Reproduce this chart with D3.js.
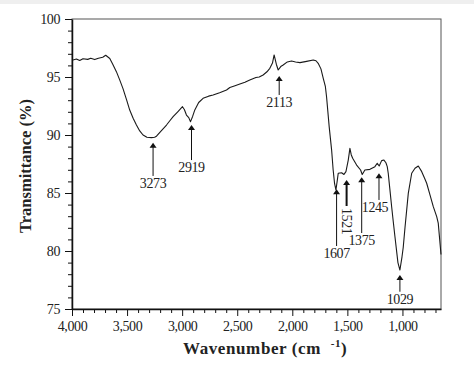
<!DOCTYPE html>
<html>
<head>
<meta charset="utf-8">
<script src="https://cdn.jsdelivr.net/npm/d3@7"></script>
<style>
  html, body { margin: 0; padding: 0; background: #fff; }
  svg { display: block; }
  svg text { font-family: "Liberation Serif", "Times New Roman", Times, serif; }
</style>
</head>
<body>
<div id="chart"></div>
<script>
// ---- Data ----
const wavenumber = [3991, 3960, 3930, 3900, 3857, 3830, 3794, 3760, 3721, 3694, 3657, 3630, 3597, 3567, 3537, 3505, 3476, 3445, 3415, 3385, 3355, 3320, 3279, 3250, 3233, 3190, 3142, 3110, 3082, 3040, 2997, 2980, 2961, 2940, 2924, 2905, 2885, 2850, 2810, 2760, 2719, 2660, 2597, 2567, 2520, 2476, 2430, 2386, 2330, 2300, 2265, 2230, 2204, 2180, 2165, 2145, 2128, 2105, 2083, 2045, 2007, 1970, 1931, 1870, 1810, 1785, 1765, 1740, 1719, 1700, 1689, 1665, 1643, 1629, 1616, 1604, 1590, 1583, 1552, 1531, 1513, 1492, 1477, 1465, 1452, 1416, 1380, 1365, 1341, 1295, 1250, 1229, 1211, 1189, 1168, 1150, 1138, 1129, 1115, 1098, 1083, 1068, 1041, 1023, 1004, 993, 977, 947, 916, 886, 856, 825, 800, 780, 750, 720, 689, 675, 650];
const transmittance = [96.47, 96.55, 96.42, 96.58, 96.52, 96.62, 96.5, 96.62, 96.7, 96.87, 96.6, 96.1, 95.46, 94.75, 94.0, 93.05, 92.15, 91.45, 90.86, 90.35, 90.0, 89.8, 89.77, 89.8, 89.9, 90.35, 90.86, 91.25, 91.58, 92.0, 92.44, 92.2, 91.72, 91.5, 91.15, 91.6, 92.16, 92.8, 93.16, 93.35, 93.45, 93.65, 93.88, 94.1, 94.25, 94.4, 94.55, 94.74, 94.95, 95.0, 95.17, 95.45, 95.75, 96.2, 96.9, 96.1, 95.6, 95.9, 96.03, 96.3, 96.38, 96.3, 96.24, 96.35, 96.47, 96.4, 96.18, 95.7, 94.89, 94.2, 93.3, 90.7, 88.7, 86.98, 85.8, 85.26, 86.2, 86.7, 86.75, 86.6, 86.84, 87.84, 88.85, 88.3, 87.99, 87.41, 86.98, 86.6, 86.98, 87.04, 87.27, 87.56, 87.33, 87.79, 87.84, 87.61, 87.27, 86.7, 85.4, 83.82, 82.5, 81.23, 79.0, 78.36, 79.5, 80.3, 82.0, 84.97, 86.7, 87.13, 87.33, 86.84, 86.3, 85.84, 84.83, 83.82, 82.96, 82.4, 79.7];

const xTickValues = [4000, 3500, 3000, 2500, 2000, 1500, 1000];
const yTickValues = [75, 80, 85, 90, 95, 100];

// Peak annotations
const peakLabels = ["3273", "2919", "2113", "1607", "1521", "1375", "1245", "1029"];
const peakWave   = [3264, 2915, 2119, 1598, 1507, 1370, 1213, 1023];
const peakTip    = [89.34, 90.86, 95.09, 85.32, 86.12, 86.35, 86.70, 77.93];
const peakTail   = [86.47, 87.84, 93.45, 80.43, 83.88, 81.55, 84.40, 76.49];
const peakRotated = [false, false, false, false, true, false, false, false];

// ---- Layout ----
const W = 474, H = 366;
const margin = { left: 72, top: 19, right: 33, bottom: 57 };
const plotW = W - margin.left - margin.right;  // 369
const plotH = H - margin.top - margin.bottom;  // 290

const svg = d3.select("#chart").append("svg")
  .attr("width", W).attr("height", H);

svg.append("rect").attr("x", 0).attr("y", 0).attr("width", W).attr("height", H).attr("fill", "#fff");
svg.append("rect").attr("x", 0).attr("y", 0).attr("width", W).attr("height", 4).attr("fill", "#efefef");

const x = d3.scaleLinear().domain([4000, 650]).range([margin.left, margin.left + plotW]);
const y = d3.scaleLinear().domain([75, 100]).range([margin.top + plotH, margin.top]);

const font = "Liberation Serif";

// Frame (top and right)
svg.append("rect")
  .attr("x", margin.left).attr("y", margin.top)
  .attr("width", plotW).attr("height", plotH)
  .attr("fill", "none").attr("stroke", "#555").attr("stroke-width", 1);

// Minor ticks
const xMinor = d3.range(4000, 649, -100).filter(v => !xTickValues.includes(v));
const yMinor = d3.range(75, 100.01, 1).filter(v => !yTickValues.includes(v));

const gxMinor = svg.append("g").attr("transform", `translate(0,${margin.top + plotH})`)
  .call(d3.axisBottom(x).tickValues(xMinor).tickSize(4).tickFormat(""));
gxMinor.select(".domain").remove();

const gyMinor = svg.append("g").attr("transform", `translate(${margin.left},0)`)
  .call(d3.axisLeft(y).tickValues(yMinor).tickSize(4).tickFormat(""));
gyMinor.select(".domain").remove();

// Major axes
const gx = svg.append("g").attr("transform", `translate(0,${margin.top + plotH})`)
  .call(d3.axisBottom(x).tickValues(xTickValues).tickSize(7).tickSizeOuter(0).tickPadding(3).tickFormat(d3.format(",")));
const gy = svg.append("g").attr("transform", `translate(${margin.left},0)`)
  .call(d3.axisLeft(y).tickValues(yTickValues).tickSize(7).tickSizeOuter(0).tickPadding(5).tickFormat(d3.format("d")));

[gx, gy, gxMinor, gyMinor].forEach(g => {
  g.attr("font-family", font).attr("font-size", 14);
  g.selectAll("line").attr("stroke", "#111").attr("stroke-width", 1);
  g.selectAll(".domain").attr("stroke", "#111").attr("stroke-width", 1.5);
  g.selectAll("text").style("font-family", font).attr("font-size", 14).attr("fill", "#222");
});
gx.selectAll("text").attr("dy", "0.85em").attr("letter-spacing", "-0.4px");
gy.selectAll("text").attr("letter-spacing", "-0.4px");

// Spectrum line
const pts = wavenumber.map((w, i) => [w, transmittance[i]]);
svg.append("path")
  .datum(pts)
  .attr("fill", "none")
  .attr("stroke", "#1a1a1a")
  .attr("stroke-width", 1.1)
  .attr("stroke-linejoin", "round")
  .attr("d", d3.line().x(d => x(d[0])).y(d => y(d[1])));

// Annotations
const ann = svg.append("g");
peakLabels.forEach((lab, i) => {
  const px = x(peakWave[i]);
  const tip = y(peakTip[i]);
  const tail = y(peakTail[i]);
  ann.append("line")
    .attr("x1", px).attr("x2", px)
    .attr("y1", tip + 4).attr("y2", tail)
    .attr("stroke", "#111")
    .attr("stroke-width", peakRotated[i] ? 2 : 1);
  ann.append("path")
    .attr("d", `M${px},${tip} L${px - 3.5},${tip + 5} L${px + 3.5},${tip + 5} Z`)
    .attr("fill", "#111");
  if (peakRotated[i]) {
    ann.append("text")
      .attr("transform", `translate(${px - 4.5},${tail + 2}) rotate(90)`)
      .attr("text-anchor", "start")
      .style("font-family", font).attr("font-size", 14).attr("fill", "#222")
      .attr("letter-spacing", "-0.4px")
      .text(lab);
  } else {
    ann.append("text")
      .attr("x", px + (lab === "1245" ? -4 : 0))
      .attr("y", tail + 12)
      .attr("text-anchor", "middle")
      .style("font-family", font).attr("font-size", 14).attr("fill", "#222")
      .attr("letter-spacing", "-0.4px")
      .text(lab);
  }
});

// Axis titles
svg.append("text")
  .attr("transform", `translate(31,${margin.top + plotH / 2 + 2}) rotate(-90)`)
  .attr("text-anchor", "middle")
  .style("font-family", font).attr("font-size", 16.5).attr("font-weight", "bold").attr("fill", "#222")
  .text("Transmittance (%)");

const xt = svg.append("text")
  .attr("x", 183).attr("y", 354)
  .style("font-family", font).attr("font-size", 17).attr("font-weight", "bold").attr("fill", "#222")
  .attr("letter-spacing", "0.6px");
xt.append("tspan").text("Wavenumber (cm\u00a0\u00a0");
xt.append("tspan").attr("dy", -7).attr("font-size", 11).text("-1");
xt.append("tspan").attr("dy", 7).text(")");
</script>
</body>
</html>
